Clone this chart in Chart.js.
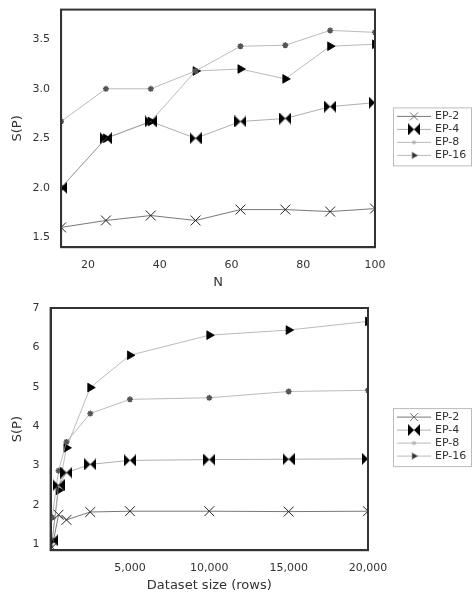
<!DOCTYPE html>
<html><head><script src="https://cdn.jsdelivr.net/npm/chart.js@4"></script>
<style>body{margin:0;background:#fff}#a{position:absolute;left:0;top:0;width:474px;height:290px}#b{position:absolute;left:0;top:290px;width:474px;height:307px}</style></head>
<body><div id="a"><canvas id="c1"></canvas></div><div id="b"><canvas id="c2"></canvas></div>
<script>
const labels = ['EP-2','EP-4','EP-8','EP-16'];
const topX = [12.5,25,37.5,50,62.5,75,87.5,100];
const topEP2 = [1.6,1.67,1.72,1.67,1.78,1.78,1.76,1.79];
const topEP4 = [2.0,2.5,2.67,2.5,2.67,2.7,2.82,2.86];
const topEP8 = [2.67,3.0,3.0,3.18,3.43,3.44,3.59,3.57];
const topEP16 = [2.0,2.5,2.67,3.18,3.2,3.1,3.43,3.45];
const topXTicks = [20,40,60,80,100];
const topYTicks = [1.5,2,2.5,3,3.5];
const botX = [100,500,1000,2500,5000,10000,15000,20000];
const botEP2 = [0.92,1.75,1.62,1.82,1.84,1.84,1.83,1.84];
const botEP4 = [1.1,2.5,2.82,3.03,3.13,3.15,3.16,3.17];
const botEP8 = [1.68,2.87,3.6,4.32,4.68,4.72,4.88,4.91];
const botEP16 = [1.1,2.37,3.45,4.98,5.8,6.31,6.44,6.66];
const botXTicks = [5000,10000,15000,20000];
const botYTicks = [1,2,3,4,5,6,7];

function bow(){const c=document.createElement('canvas');c.width=12;c.height=12;const g=c.getContext('2d');g.fillStyle='#000';
g.beginPath();g.moveTo(0,0);g.lineTo(6,6);g.lineTo(0,12);g.closePath();g.fill();
g.beginPath();g.moveTo(12,0);g.lineTo(6,6);g.lineTo(12,12);g.closePath();g.fill();return c;}
const bowImg=bow();
const styles=[
 {pointStyle:'crossRot',pointRadius:7,borderColor:'#555',pointBorderColor:'#222',pointBorderWidth:1},
 {pointStyle:bowImg,borderColor:'#999'},
 {pointStyle:'star',pointRadius:3,borderColor:'#aaa',pointBorderColor:'#555',pointBorderWidth:1.5},
 {pointStyle:'triangle',rotation:90,pointRadius:5,borderColor:'#aaa',pointBackgroundColor:'#000',pointBorderColor:'#000'}];
function ds(xs,arrs){return arrs.map((a,i)=>Object.assign({label:labels[i],data:xs.map((x,j)=>({x:x,y:a[j]})),borderWidth:0.8},styles[i]));}
const frame={id:'frame',afterDraw(ch){const g=ch.ctx,a=ch.chartArea;g.save();g.strokeStyle='#333';g.lineWidth=2;g.strokeRect(a.left,a.top,a.right-a.left,a.bottom-a.top);
 // legend
 const lx=393,lw=78,lh=58,ly=(a.top+a.bottom)/2-lh/2+8;g.strokeStyle='#bbb';g.lineWidth=1;g.strokeRect(lx+0.5,ly+0.5,lw,lh);
 ch.data.datasets.forEach((d,i)=>{const y=ly+9+i*13;g.strokeStyle=d.borderColor;g.lineWidth=0.8;g.beginPath();g.moveTo(lx+4,y);g.lineTo(lx+38,y);g.stroke();
  Chart.helpers.drawPoint(g,{pointStyle:d.pointStyle,radius:(d.pointRadius||4)*0.8,rotation:d.rotation||0,borderWidth:1},lx+21,y);
  g.fillStyle='#333';g.font='11px "DejaVu Sans"';g.textBaseline='middle';g.fillText(d.label,lx+42,y);});
 g.restore();}};
function opts(xmin,xmax,xt,xtitle,ymin,ymax,yt,pad){const f={family:'DejaVu Sans',size:11};return {animation:false,responsive:true,maintainAspectRatio:false,
 layout:{padding:pad},
 plugins:{legend:{display:false},tooltip:{enabled:false}},
 scales:{x:{type:'linear',min:xmin,max:xmax,afterBuildTicks:s=>{s.ticks=xt.map(v=>({value:v}));},ticks:{color:'#333',font:f,autoSkip:false,maxRotation:0},grid:{display:false,drawTicks:true},border:{color:'#333',width:2},title:{display:true,text:xtitle,color:'#333',font:{family:'DejaVu Sans',size:13},padding:0}},
 y:{min:ymin,max:ymax,afterBuildTicks:s=>{s.ticks=yt.map(v=>({value:v}));},ticks:{color:'#333',font:f,autoSkip:false},grid:{display:false},border:{color:'#333',width:2},title:{display:true,text:'S(P)',color:'#333',font:{family:'DejaVu Sans',size:13}}}}};}
new Chart(document.getElementById('c1'),{type:'line',data:{datasets:ds(topX,[topEP2,topEP4,topEP8,topEP16])},options:opts(12.5,100,topXTicks,'N',1.4,3.8,topYTicks,{top:5,right:99,left:6,bottom:0}),plugins:[frame]});
new Chart(document.getElementById('c2'),{type:'line',data:{datasets:ds(botX,[botEP2,botEP4,botEP8,botEP16])},options:opts(0,20000,botXTicks,'Dataset size (rows)',0.85,7,botYTicks,{top:18,right:106,left:6,bottom:4}),plugins:[frame]});
</script></body></html>
